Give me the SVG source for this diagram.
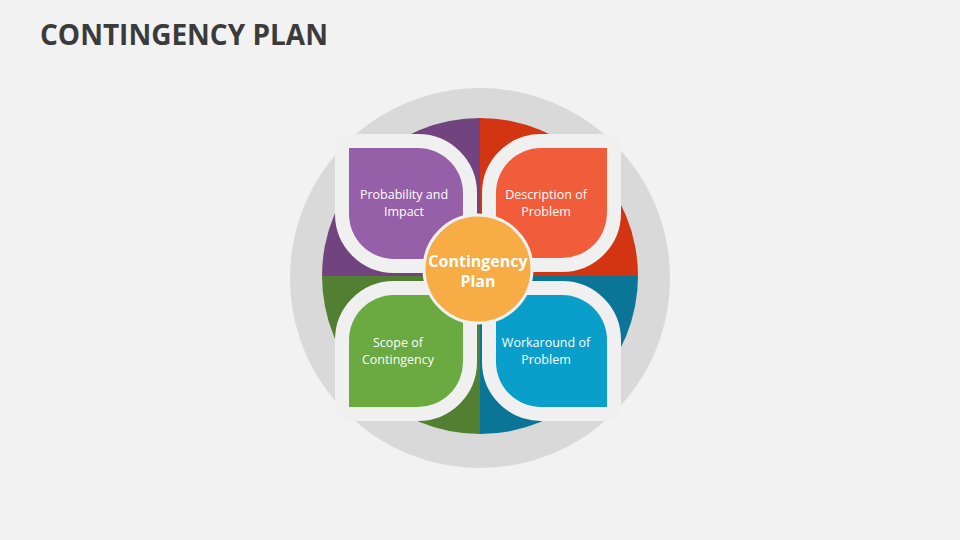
<svg xmlns="http://www.w3.org/2000/svg" width="960" height="540" viewBox="0 0 960 540">
<style>
.leaf{stroke:#f0f0f0;stroke-width:28;paint-order:stroke;stroke-linejoin:round}
.t{font-family:"Open Sans","Liberation Sans",sans-serif;font-size:12.5px;fill:#fff;text-anchor:middle}
.c{font-family:"Open Sans","Liberation Sans",sans-serif;font-size:16px;font-weight:bold;fill:#fff;text-anchor:middle}
</style>
<rect width="960" height="540" fill="#f2f2f2"/>
<text x="40" y="45" font-family="'Open Sans','Liberation Sans',sans-serif" font-weight="bold" font-size="28" fill="#3b3b3b">CONTINGENCY PLAN</text>
<circle cx="480" cy="278" r="190" fill="#d9d9d9"/>
<g id="ring">
<path d="M480,276 V118 A158,158 0 0 0 322,276 Z" fill="#71447f"/>
<path d="M480,276 V118 A158,158 0 0 1 638,276 Z" fill="#d33512"/>
<path d="M480,276 H638 A158,158 0 0 1 480,434 Z" fill="#0a7597"/>
<path d="M480,276 V434 A158,158 0 0 1 322,276 Z" fill="#537f33"/>
</g>
<g id="n1"><path class="leaf" fill="#9660a8" d="M349,148 H418 A45,45 0 0 1 463,193 V259 H394 A45,45 0 0 1 349,214 Z"/>
<text class="t" x="404" y="199">Probability and</text><text class="t" x="404" y="216">Impact</text></g>
<g id="n2"><path class="leaf" fill="#f15d3b" d="M607,148 V213 A45,45 0 0 1 562,258 H496 V193 A45,45 0 0 1 541,148 Z"/>
<text class="t" x="546" y="199">Description of</text><text class="t" x="546" y="216">Problem</text></g>
<g id="n3"><path class="leaf" fill="#6aaa40" d="M463,295 V362 A45,45 0 0 1 418,407 H349 V340 A45,45 0 0 1 394,295 Z"/>
<text class="t" x="398" y="347">Scope of</text><text class="t" x="398" y="364">Contingency</text></g>
<g id="n4"><path class="leaf" fill="#0a9ecb" d="M496,295 H562 A45,45 0 0 1 607,340 V407 H541 A45,45 0 0 1 496,362 Z"/>
<text class="t" x="546" y="347">Workaround of</text><text class="t" x="546" y="364">Problem</text></g>
<g id="center"><circle cx="478" cy="269" r="54" fill="#f7ac45" stroke="#f0f0f0" stroke-width="3"/>
<text class="c" x="478" y="267">Contingency</text><text class="c" x="478" y="287">Plan</text></g>
<g id="connectors"/>
</svg>
